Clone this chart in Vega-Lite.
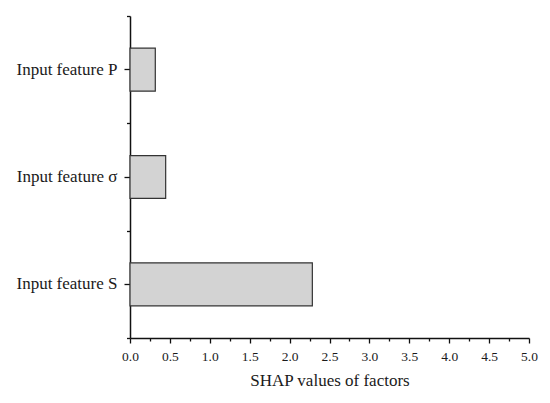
{
  "$schema": "https://vega.github.io/schema/vega-lite/v6.json",
  "autosize": "none",
  "width": 399,
  "height": 322,
  "padding": {"left": 130, "top": 16, "right": 21, "bottom": 65},
  "background": "white",
  "config": {
    "view": {"stroke": null},
    "font": "Liberation Serif",
    "axis": {
      "grid": false,
      "domainColor": "#111111",
      "domainWidth": 1.5,
      "tickColor": "#111111",
      "tickWidth": 1.3,
      "labelColor": "#1a1a1a",
      "titleColor": "#1a1a1a",
      "labelFont": "Liberation Serif",
      "titleFont": "Liberation Serif",
      "titleFontWeight": "normal"
    }
  },
  "data": {
    "values": [
      {"feature": "Input feature P", "shap": 0.317},
      {"feature": "Input feature σ", "shap": 0.447},
      {"feature": "Input feature S", "shap": 2.285}
    ]
  },
  "layer": [
    {
      "mark": {"type": "bar", "opacity": 0},
      "encoding": {
        "y": {
          "field": "feature", "type": "nominal", "sort": null,
          "scale": {"paddingInner": 0, "paddingOuter": 0},
          "axis": {"title": null, "orient": "left", "tickBand": "extent", "tickSize": 3.5, "labels": false, "domain": false}
        },
        "x": {
          "field": "shap", "type": "quantitative",
          "scale": {"domain": [0, 5], "nice": false},
          "axis": {
            "title": null, "orient": "bottom",
            "values": [0.25, 0.75, 1.25, 1.75, 2.25, 2.75, 3.25, 3.75, 4.25, 4.75],
            "tickSize": 3, "labels": false, "domain": false
          }
        }
      }
    },
    {
      "mark": {"type": "bar", "fill": "#d3d3d3", "stroke": "#333333", "strokeWidth": 1.2},
      "encoding": {
        "y": {
          "field": "feature", "type": "nominal", "sort": null,
          "scale": {"paddingInner": 0.6, "paddingOuter": 0.3},
          "axis": {"title": null, "orient": "left", "tickSize": 6, "labelFontSize": 17, "labelPadding": 7, "domain": true}
        },
        "x": {
          "field": "shap", "type": "quantitative",
          "scale": {"domain": [0, 5], "nice": false},
          "axis": {
            "title": "SHAP values of factors", "orient": "bottom",
            "values": [0, 0.5, 1, 1.5, 2, 2.5, 3, 3.5, 4, 4.5, 5],
            "format": ".1f", "tickSize": 5, "labelFontSize": 13.5, "labelPadding": 6,
            "titleFontSize": 17, "titlePadding": 10, "labelFlush": false
          }
        }
      }
    }
  ],
  "resolve": {"scale": {"y": "independent"}, "axis": {"x": "independent", "y": "independent"}}
}
